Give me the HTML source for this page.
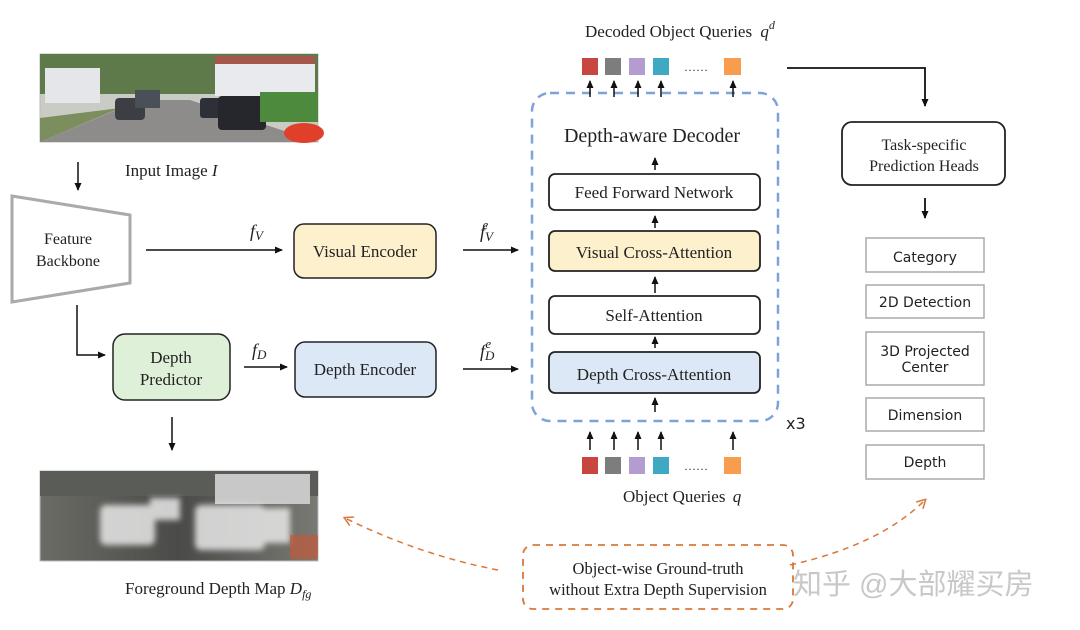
<!DOCTYPE html>
<html><head><meta charset="utf-8"><style>
html,body{margin:0;padding:0;background:#fff;}
svg{display:block;}
text{font-family:"Liberation Serif",serif;fill:#222;}
.s{font-family:"DejaVu Sans","Liberation Sans",sans-serif;}
</style></head><body>
<svg width="1080" height="630" viewBox="0 0 1080 630" xmlns="http://www.w3.org/2000/svg">
<defs>
<marker id="a" markerWidth="8" markerHeight="8" refX="7" refY="4" orient="auto" markerUnits="userSpaceOnUse"><path d="M0,0.5 L8,4 L0,7.5 z" fill="#111"/></marker>
<marker id="o" markerWidth="10" markerHeight="10" refX="8" refY="5" orient="auto" markerUnits="userSpaceOnUse"><path d="M0,0 L9,5 L0,10" fill="none" stroke="#d9773a" stroke-width="1.5"/></marker>
<filter id="bl"><feGaussianBlur stdDeviation="3"/></filter>
<linearGradient id="dm" x1="0" y1="0" x2="1" y2="0"><stop offset="0" stop-color="#6c6c66"/><stop offset="0.5" stop-color="#4a4a48"/><stop offset="1" stop-color="#7a7a74"/></linearGradient>
</defs>

<!-- input image -->
<g>
<rect x="40" y="54" width="278" height="88" fill="#c9ccc4" stroke="#bbb"/>
<rect x="40" y="54" width="278" height="40" fill="#5f7a4a"/>
<rect x="45" y="68" width="55" height="35" fill="#e4e6ea"/>
<rect x="215" y="58" width="100" height="38" fill="#e8eaee"/>
<rect x="215" y="56" width="100" height="8" fill="#a4574a"/>
<polygon points="40,142 140,100 190,100 318,142" fill="#8d8c8a"/>
<polygon points="40,142 40,118 120,108" fill="#7d8e5e"/>
<rect x="115" y="98" width="30" height="22" rx="4" fill="#3c3e44"/>
<rect x="135" y="90" width="25" height="18" fill="#4a5058"/>
<rect x="200" y="98" width="22" height="20" rx="3" fill="#2d3036"/>
<rect x="218" y="96" width="48" height="34" rx="4" fill="#25272c"/>
<rect x="260" y="92" width="58" height="30" fill="#4e8a3e"/>
<ellipse cx="304" cy="133" rx="20" ry="10" fill="#e0402a"/>
</g>
<line x1="78" y1="162" x2="78" y2="190" stroke="#111" stroke-width="1.5" marker-end="url(#a)"/>
<text x="125" y="176" font-size="17">Input Image <tspan font-style="italic">I</tspan></text>

<!-- backbone -->
<polygon points="12,196 130,215 130,283 12,302" fill="#fff" stroke="#aaa" stroke-width="3"/>
<text x="68" y="244" font-size="16" text-anchor="middle">Feature</text>
<text x="68" y="266" font-size="16" text-anchor="middle">Backbone</text>

<line x1="146" y1="250" x2="282" y2="250" stroke="#111" stroke-width="1.5" marker-end="url(#a)"/>
<text x="250" y="237" font-size="18" font-style="italic">f<tspan font-size="13" dy="3">V</tspan></text>
<rect x="294" y="224" width="142" height="54" rx="10" fill="#fdf0cc" stroke="#222" stroke-width="1.5"/>
<text x="365" y="257" font-size="17" text-anchor="middle">Visual Encoder</text>
<line x1="463" y1="250" x2="518" y2="250" stroke="#111" stroke-width="1.5" marker-end="url(#a)"/>
<text x="480" y="238" font-size="18" font-style="italic">f<tspan font-size="13" dy="3">V</tspan><tspan font-size="13" dx="-9" dy="-12">e</tspan></text>

<polyline points="77,305 77,355 105,355" fill="none" stroke="#111" stroke-width="1.5" marker-end="url(#a)"/>
<rect x="113" y="334" width="117" height="66" rx="12" fill="#dff0d8" stroke="#222" stroke-width="1.5"/>
<text x="171" y="363" font-size="17" text-anchor="middle">Depth</text>
<text x="171" y="385" font-size="17" text-anchor="middle">Predictor</text>
<line x1="244" y1="367" x2="287" y2="367" stroke="#111" stroke-width="1.5" marker-end="url(#a)"/>
<text x="252" y="356" font-size="18" font-style="italic">f<tspan font-size="13" dy="3">D</tspan></text>
<rect x="295" y="342" width="141" height="55" rx="10" fill="#dce8f5" stroke="#222" stroke-width="1.5"/>
<text x="365" y="375" font-size="17" text-anchor="middle">Depth Encoder</text>
<line x1="463" y1="369" x2="518" y2="369" stroke="#111" stroke-width="1.5" marker-end="url(#a)"/>
<text x="480" y="357" font-size="18" font-style="italic">f<tspan font-size="13" dy="3">D</tspan><tspan font-size="13" dx="-9" dy="-12">e</tspan></text>

<line x1="172" y1="417" x2="172" y2="450" stroke="#111" stroke-width="1.5" marker-end="url(#a)"/>

<!-- depth map -->
<g>
<rect x="40" y="471" width="278" height="90" fill="url(#dm)" stroke="#bbb"/>
<rect x="40" y="471" width="278" height="25" fill="#5a5c58"/>
<rect x="215" y="474" width="95" height="30" fill="#c8c8c8"/>
<g filter="url(#bl)" fill="#e8e8e8" opacity="0.85">
<rect x="100" y="505" width="55" height="40" rx="6"/>
<rect x="150" y="498" width="30" height="22"/>
<rect x="195" y="505" width="70" height="45" rx="6"/>
<rect x="250" y="508" width="40" height="35"/>
</g>
<rect x="290" y="535" width="28" height="24" fill="#c05a3a" opacity="0.7"/>
</g>
<text x="125" y="594" font-size="17">Foreground Depth Map <tspan font-style="italic">D<tspan font-size="12" dy="4">fg</tspan></tspan></text>

<!-- decoder -->
<rect x="532" y="93" width="246" height="328" rx="18" fill="none" stroke="#7fa3d8" stroke-width="2.5" stroke-dasharray="9,7"/>
<text x="652" y="142" font-size="20" text-anchor="middle">Depth-aware Decoder</text>
<rect x="549" y="174" width="211" height="36" rx="6" fill="#fff" stroke="#222" stroke-width="1.8"/>
<text x="654" y="198" font-size="17" text-anchor="middle">Feed Forward Network</text>
<rect x="549" y="231" width="211" height="40" rx="6" fill="#fdf0cc" stroke="#222" stroke-width="1.8"/>
<text x="654" y="258" font-size="17" text-anchor="middle">Visual Cross-Attention</text>
<rect x="549" y="296" width="211" height="38" rx="6" fill="#fff" stroke="#222" stroke-width="1.8"/>
<text x="654" y="321" font-size="17" text-anchor="middle">Self-Attention</text>
<rect x="549" y="352" width="211" height="41" rx="6" fill="#dce8f5" stroke="#222" stroke-width="1.8"/>
<text x="654" y="380" font-size="17" text-anchor="middle">Depth Cross-Attention</text>
<g stroke="#111" stroke-width="1.5">
<line x1="655" y1="170" x2="655" y2="158" marker-end="url(#a)"/>
<line x1="655" y1="228" x2="655" y2="216" marker-end="url(#a)"/>
<line x1="655" y1="293" x2="655" y2="277" marker-end="url(#a)"/>
<line x1="655" y1="348" x2="655" y2="337" marker-end="url(#a)"/>
<line x1="655" y1="412" x2="655" y2="398" marker-end="url(#a)"/>
</g>
<text x="786" y="429" font-size="16" class="s">x3</text>

<!-- queries -->
<text x="585" y="37" font-size="17">Decoded Object Queries <tspan font-style="italic" dx="4">q<tspan font-size="12" dy="-8">d</tspan></tspan></text>
<g>
<rect x="582" y="58" width="16" height="17" fill="#c8463f"/>
<rect x="605" y="58" width="16" height="17" fill="#7d7d7d"/>
<rect x="629" y="58" width="16" height="17" fill="#b39ccf"/>
<rect x="653" y="58" width="16" height="17" fill="#3fa9c4"/>
<text x="684" y="71" font-size="12">……</text>
<rect x="724" y="58" width="17" height="17" fill="#f79d4d"/>
</g>
<g stroke="#111" stroke-width="1.5">
<line x1="590" y1="97" x2="590" y2="81" marker-end="url(#a)"/>
<line x1="614" y1="97" x2="614" y2="81" marker-end="url(#a)"/>
<line x1="638" y1="97" x2="638" y2="81" marker-end="url(#a)"/>
<line x1="661" y1="97" x2="661" y2="81" marker-end="url(#a)"/>
<line x1="733" y1="97" x2="733" y2="81" marker-end="url(#a)"/>
<line x1="590" y1="450" x2="590" y2="432" marker-end="url(#a)"/>
<line x1="614" y1="450" x2="614" y2="432" marker-end="url(#a)"/>
<line x1="638" y1="450" x2="638" y2="432" marker-end="url(#a)"/>
<line x1="661" y1="450" x2="661" y2="432" marker-end="url(#a)"/>
<line x1="733" y1="450" x2="733" y2="432" marker-end="url(#a)"/>
</g>
<g>
<rect x="582" y="457" width="16" height="17" fill="#c8463f"/>
<rect x="605" y="457" width="16" height="17" fill="#7d7d7d"/>
<rect x="629" y="457" width="16" height="17" fill="#b39ccf"/>
<rect x="653" y="457" width="16" height="17" fill="#3fa9c4"/>
<text x="684" y="470" font-size="12">……</text>
<rect x="724" y="457" width="17" height="17" fill="#f79d4d"/>
</g>
<text x="623" y="502" font-size="17">Object Queries <tspan font-style="italic" dx="3">q</tspan></text>

<!-- right side -->
<polyline points="787,68 925,68 925,106" fill="none" stroke="#111" stroke-width="1.8" marker-end="url(#a)"/>
<rect x="842" y="122" width="163" height="63" rx="10" fill="#fff" stroke="#222" stroke-width="1.8"/>
<text x="924" y="150" font-size="16" text-anchor="middle">Task-specific</text>
<text x="924" y="171" font-size="16" text-anchor="middle">Prediction Heads</text>
<line x1="925" y1="198" x2="925" y2="218" stroke="#111" stroke-width="1.8" marker-end="url(#a)"/>
<g fill="#fff" stroke="#aaa" stroke-width="1.5">
<rect x="866" y="238" width="118" height="34"/>
<rect x="866" y="285" width="118" height="33"/>
<rect x="866" y="332" width="118" height="53"/>
<rect x="866" y="398" width="118" height="33"/>
<rect x="866" y="445" width="118" height="34"/>
</g>
<g class="s" font-size="14" text-anchor="middle">
<text x="925" y="262" class="s">Category</text>
<text x="925" y="307" class="s">2D Detection</text>
<text x="925" y="356" class="s">3D Projected</text>
<text x="925" y="372" class="s">Center</text>
<text x="925" y="420" class="s">Dimension</text>
<text x="925" y="467" class="s">Depth</text>
</g>

<!-- supervision -->
<rect x="523" y="545" width="270" height="64" rx="10" fill="none" stroke="#d9773a" stroke-width="1.8" stroke-dasharray="7,6"/>
<text x="658" y="574" font-size="16.5" text-anchor="middle">Object-wise Ground-truth</text>
<text x="658" y="595" font-size="16.5" text-anchor="middle">without Extra Depth Supervision</text>
<path d="M498,570 Q420,555 345,518" fill="none" stroke="#d9773a" stroke-width="1.5" stroke-dasharray="6,5" marker-end="url(#o)"/>
<path d="M790,565 Q880,545 925,500" fill="none" stroke="#d9773a" stroke-width="1.5" stroke-dasharray="6,5" marker-end="url(#o)"/>

<text x="793" y="594" font-size="29" style="fill:#c8c8c8;font-family:'Liberation Sans','Noto Sans CJK SC',sans-serif;">知乎 @大部耀买房</text>
</svg>
</body></html>
